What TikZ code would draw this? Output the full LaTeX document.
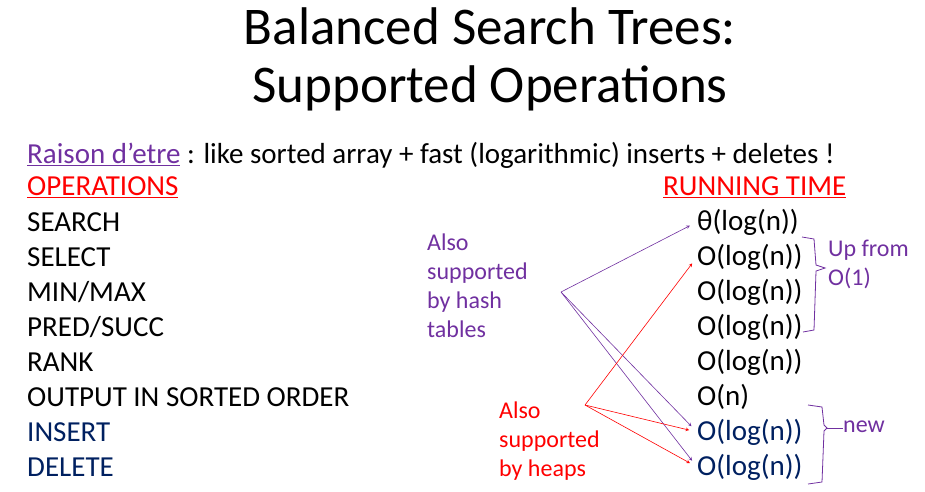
\documentclass[tikz,border=0pt]{standalone}
\usepackage{fontspec}
\setmainfont{Carlito}
\definecolor{pur}{RGB}{112,48,160}
\definecolor{nav}{RGB}{0,32,96}
\begin{document}
\begin{tikzpicture}[x=1pt,y=-1pt,
  txt/.style={anchor=west,inner sep=0pt,font=\fontsize{29}{29}\selectfont},
  sm/.style={anchor=west,inner sep=0pt,font=\fontsize{24}{29}\selectfont,align=left},
  arr/.style={->,>=stealth,line width=0.6pt,shorten >=8pt}]
\useasboundingbox (0,0) rectangle (925,491);
\node[inner sep=0pt,font=\fontsize{53}{58}\selectfont,align=center] (title) at (490,59) {Balanced Search Trees:\\Supported Operations};
\node[txt] (rais) at (27,155) {\textcolor{pur}{\underline{Raison d’etre}} : like sorted array + fast (logarithmic) inserts + deletes !};
\node[txt,red] (ops) at (27,187) {\underline{OPERATIONS}};
\node[txt,red] (rt) at (663,187) {\underline{RUNNING TIME}};
\foreach \t/\c [count=\i] in {{SEARCH}/black,{SELECT}/black,{MIN/MAX}/black,{PRED/SUCC}/black,{RANK}/black,{OUTPUT IN SORTED ORDER}/black,{INSERT}/nav,{DELETE}/nav}
  \node[txt,text=\c] (op\i) at (27,187+35*\i) {\t};
\foreach \t/\c [count=\i] in {θ(log(n))/black,O(log(n))/black,O(log(n))/black,O(log(n))/black,O(log(n))/black,O(n)/black,O(log(n))/nav,O(log(n))/nav}
  \node[txt,text=\c] (r\i) at (697,187+35*\i) {\t};
\node[sm,text=pur,anchor=north west] (hash) at (427,234) {Also\\supported\\by hash\\tables};
\node[sm,text=red,anchor=north west] (heap) at (499,402) {Also\\supported\\by heaps};
\coordinate (ho) at (561,292);
\coordinate (eo) at (585,405);
\draw[arr,pur] (ho) -- (r1.west);
\draw[arr,pur] (ho) -- (r7.west);
\draw[arr,pur] (ho) -- (r8.west);
\draw[arr,red] (eo) -- (r2.west);
\draw[arr,red] (eo) -- (r7.west);
\draw[arr,red] (eo) -- (r8.west);
\draw[pur,line width=0.8pt] (802,237) -- (814,239) -- (816,265) -- (825,268) -- (816,271) -- (814,330) -- (803,332);
\node[sm,text=pur,anchor=north west] (up) at (828,240) {Up from\\O(1)};
\draw[pur,line width=0.8pt] (808,405) -- (822,407) -- (824,425) -- (827,428) -- (824,431) -- (822,482) -- (808,484);
\draw[pur,line width=0.8pt] (827,428) -- (843,428);
\node[sm,text=pur] (new) at (843,427) {new};
\end{tikzpicture}
\end{document}
